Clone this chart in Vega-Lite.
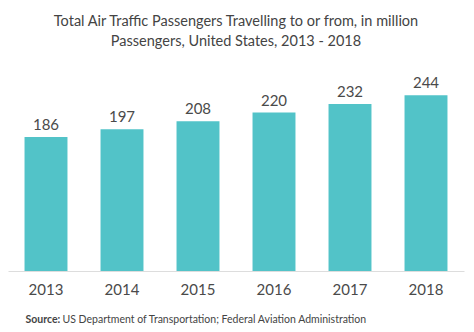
{
  "$schema": "https://vega.github.io/schema/vega-lite/v6.json",
  "autosize": {"type": "none"},
  "width": 456,
  "height": 211,
  "padding": {"left": 8, "top": 60, "right": 10, "bottom": 61},
  "background": "white",
  "title": {
    "text": ["Total Air Traffic Passengers Travelling to or from, in million", "Passengers, United States, 2013 - 2018"],
    "anchor": "middle",
    "font": "Lato",
    "fontSize": 14.5,
    "fontWeight": "normal",
    "color": "#444444",
    "lineHeight": 20,
    "offset": 11
  },
  "data": {
    "values": [
      {"year": "2013", "passengers": 186},
      {"year": "2014", "passengers": 197},
      {"year": "2015", "passengers": 208},
      {"year": "2016", "passengers": 220},
      {"year": "2017", "passengers": 232},
      {"year": "2018", "passengers": 244}
    ]
  },
  "encoding": {
    "x": {
      "field": "year",
      "type": "nominal",
      "scale": {"paddingInner": 0.435, "paddingOuter": 0.2175},
      "axis": {
        "labelAngle": 0,
        "labelFont": "Lato",
        "labelFontSize": 15,
        "labelColor": "#4a4a4a",
        "labelPadding": 11,
        "ticks": false,
        "domainColor": "#dddddd",
        "domainWidth": 1,
        "grid": false,
        "title": "Source:",
        "titleFont": "Lato",
        "titleFontSize": 10.5,
        "titleFontWeight": "bold",
        "titleColor": "#444444",
        "titleAnchor": "start",
        "titleAlign": "left",
        "titleBaseline": "middle",
        "titleX": 17,
        "titleY": 48
      }
    },
    "y": {
      "field": "passengers",
      "type": "quantitative",
      "scale": {"domain": [0, 293], "nice": false},
      "axis": {
        "labels": false,
        "ticks": false,
        "domain": false,
        "grid": false,
        "title": "US Department of Transportation; Federal Aviation Administration",
        "titleAngle": 0,
        "titleFont": "Lato",
        "titleFontSize": 10.5,
        "titleFontWeight": "normal",
        "titleColor": "#444444",
        "titleAlign": "left",
        "titleBaseline": "middle",
        "titleX": 54,
        "titleY": 259
      }
    }
  },
  "layer": [
    {"mark": {"type": "bar", "color": "#52C3C8"}},
    {
      "mark": {"type": "text", "baseline": "alphabetic", "dy": -7, "font": "Lato", "fontSize": 15, "color": "#4a4a4a"},
      "encoding": {"text": {"field": "passengers", "type": "quantitative"}}
    }
  ],
  "config": {"view": {"stroke": null}}
}
